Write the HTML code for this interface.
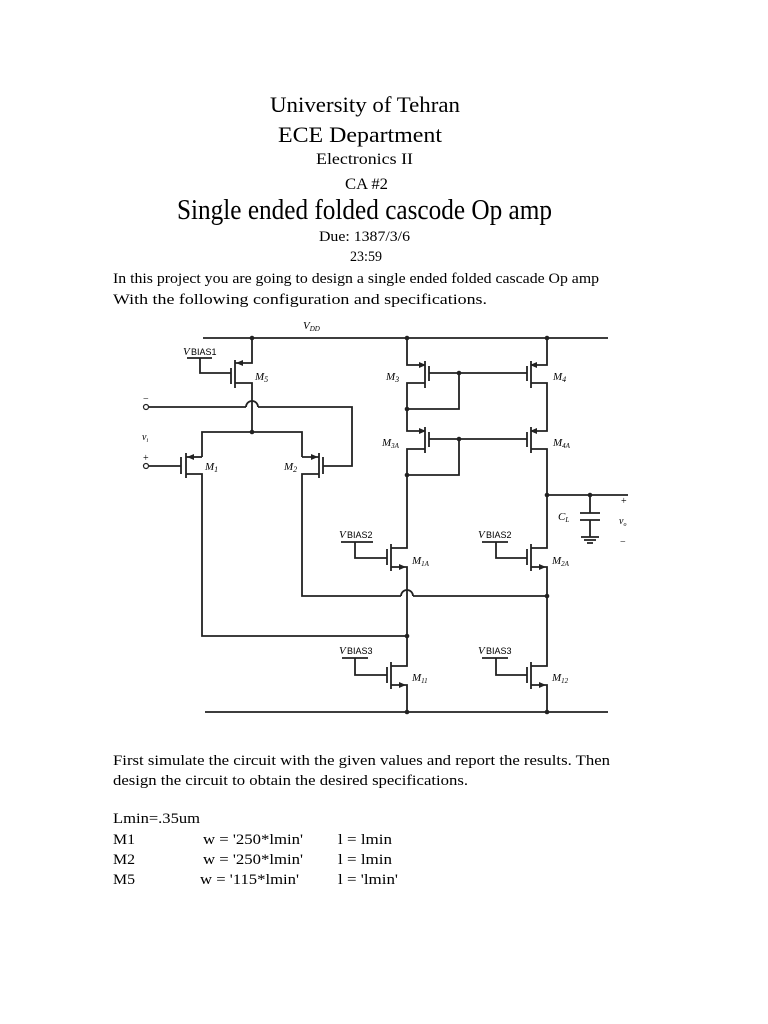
<!DOCTYPE html>
<html><head><meta charset="utf-8"><style>
html,body{margin:0;padding:0;background:#fff;}
svg{display:block;}
text{font-family:"Liberation Serif","Times New Roman",serif;fill:#000;}
.it{font-style:italic;}
.s{font-family:"Liberation Sans",sans-serif;font-size:9px;}
</style></head><body>
<svg width="768" height="1024" viewBox="0 0 768 1024" xmlns="http://www.w3.org/2000/svg">
<g>
<text x="270" y="112" font-size="22" textLength="190" lengthAdjust="spacingAndGlyphs">University of Tehran</text>
<text x="278" y="142" font-size="22" textLength="164" lengthAdjust="spacingAndGlyphs">ECE Department</text>
<text x="316" y="164" font-size="16" textLength="97" lengthAdjust="spacingAndGlyphs">Electronics II</text>
<text x="345" y="189" font-size="16" textLength="43" lengthAdjust="spacingAndGlyphs">CA #2</text>
<text x="177" y="219" font-size="29" textLength="375" lengthAdjust="spacingAndGlyphs">Single ended folded cascode Op amp</text>
<text x="319" y="241" font-size="15" textLength="91" lengthAdjust="spacingAndGlyphs">Due: 1387/3/6</text>
<text x="350" y="261" font-size="15" textLength="32" lengthAdjust="spacingAndGlyphs">23:59</text>
<text x="113" y="283" font-size="15" textLength="486" lengthAdjust="spacingAndGlyphs">In this project you are going to design a single ended folded cascade Op amp</text>
<text x="113" y="304" font-size="15" textLength="374" lengthAdjust="spacingAndGlyphs">With the following configuration and specifications.</text>

<text x="113" y="765" font-size="15" textLength="497" lengthAdjust="spacingAndGlyphs">First simulate the circuit with the given values and report the results. Then</text>
<text x="113" y="785" font-size="15" textLength="355" lengthAdjust="spacingAndGlyphs">design the circuit to obtain the desired specifications.</text>
<text x="113" y="823" font-size="15" textLength="87" lengthAdjust="spacingAndGlyphs">Lmin=.35um</text>
<text x="113" y="844" font-size="15" textLength="22" lengthAdjust="spacingAndGlyphs">M1</text><text x="203" y="844" font-size="15" textLength="100" lengthAdjust="spacingAndGlyphs">w = '250*lmin'</text><text x="338" y="844" font-size="15" textLength="54" lengthAdjust="spacingAndGlyphs">l = lmin</text>
<text x="113" y="864" font-size="15" textLength="22" lengthAdjust="spacingAndGlyphs">M2</text><text x="203" y="864" font-size="15" textLength="100" lengthAdjust="spacingAndGlyphs">w = '250*lmin'</text><text x="338" y="864" font-size="15" textLength="54" lengthAdjust="spacingAndGlyphs">l = lmin</text>
<text x="113" y="884" font-size="15" textLength="22" lengthAdjust="spacingAndGlyphs">M5</text><text x="200" y="884" font-size="15" textLength="99" lengthAdjust="spacingAndGlyphs">w = '115*lmin'</text><text x="338" y="884" font-size="15" textLength="60" lengthAdjust="spacingAndGlyphs">l = 'lmin'</text>
</g>

<g stroke="#222" stroke-width="1.8" fill="none">
<line x1="203" y1="338" x2="608" y2="338"/>
<line x1="205" y1="712" x2="608" y2="712"/>
<path d="M252 338 V363 H235"/><line x1="235" y1="360" x2="235" y2="388"/><line x1="231" y1="368" x2="231" y2="384"/>
<path d="M187 358 H212 M200 358 V373 H231"/>
<path d="M235 383 H252 V432"/>
<path d="M246 407 A6 6 0 0 1 258 407"/>
<path d="M149 407 H246 M258 407 H352 V466 H323"/>
<path d="M202 457 V432 H302 V457"/>
<path d="M202 457 H186"/><line x1="186" y1="453" x2="186" y2="478"/><line x1="181" y1="457" x2="181" y2="474"/>
<path d="M149 466 H181"/>
<path d="M186 474 H202 V636 H407"/>
<path d="M302 457 H319"/><line x1="319" y1="453" x2="319" y2="478"/><line x1="323" y1="457" x2="323" y2="474"/>
<path d="M319 474 H302 V596 H401 M413 596 H547"/>
<path d="M401 596 A6 6 0 0 1 413 596"/>
<path d="M407 338 V365 H425"/><line x1="425" y1="361" x2="425" y2="388"/><line x1="429" y1="366" x2="429" y2="381"/>
<path d="M429 373 H527 M459 373 V409 H407"/>
<path d="M425 383 H407 V431 H425"/><line x1="425" y1="427" x2="425" y2="453"/><line x1="429" y1="432" x2="429" y2="447"/>
<path d="M429 439 H527 M459 439 V475 H407"/>
<path d="M425 449 H407 V548 H391"/>
<path d="M547 338 V365 H531"/><line x1="531" y1="361" x2="531" y2="388"/><line x1="527" y1="366" x2="527" y2="381"/>
<path d="M531 383 H547 V431 H531"/><line x1="531" y1="427" x2="531" y2="453"/><line x1="527" y1="432" x2="527" y2="447"/>
<path d="M531 449 H547 V548 H531"/>
<path d="M547 495 H628 M590 495 V513 M580 513 H600 M580 520 H600 M590 520 V537 M581 537 H599 M584 540 H596 M587 543 H593"/>
<line x1="391" y1="544" x2="391" y2="571"/><line x1="387" y1="549" x2="387" y2="565"/>
<path d="M341 542 H373 M355 542 V558 H387"/>
<path d="M391 567 H407 V666 H391"/>
<line x1="531" y1="544" x2="531" y2="571"/><line x1="527" y1="549" x2="527" y2="565"/>
<path d="M482 542 H508 M496 542 V558 H527"/>
<path d="M531 567 H547 V666 H531"/>
<line x1="391" y1="662" x2="391" y2="689"/><line x1="387" y1="667" x2="387" y2="683"/>
<path d="M342 658 H368 M355 658 V675 H387"/>
<path d="M391 685 H407 V712"/>
<line x1="531" y1="662" x2="531" y2="689"/><line x1="527" y1="667" x2="527" y2="683"/>
<path d="M482 658 H508 M496 658 V675 H527"/>
<path d="M531 685 H547 V712"/>
<circle cx="146" cy="407" r="2.5" stroke-width="1.2"/><circle cx="146" cy="466" r="2.5" stroke-width="1.2"/>
</g>
<g fill="#222">
<circle cx="252" cy="338" r="2.3"/><circle cx="407" cy="338" r="2.3"/><circle cx="547" cy="338" r="2.3"/>
<circle cx="252" cy="432" r="2.3"/><circle cx="459" cy="373" r="2.3"/><circle cx="407" cy="409" r="2.3"/>
<circle cx="459" cy="439" r="2.3"/><circle cx="407" cy="475" r="2.3"/><circle cx="547" cy="495" r="2.3"/>
<circle cx="590" cy="495" r="2.3"/><circle cx="547" cy="596" r="2.3"/><circle cx="407" cy="636" r="2.3"/>
<circle cx="407" cy="712" r="2.3"/><circle cx="547" cy="712" r="2.3"/>
<polygon points="236,363 243,360 243,366"/>
<polygon points="426,365 419,362 419,368"/><polygon points="426,431 419,428 419,434"/>
<polygon points="530,365 537,362 537,368"/><polygon points="530,431 537,428 537,434"/>
<polygon points="187,457 194,454 194,460"/><polygon points="318,457 311,454 311,460"/>
<polygon points="406,567 399,564 399,570"/><polygon points="546,567 539,564 539,570"/>
<polygon points="406,685 399,682 399,688"/><polygon points="546,685 539,682 539,688"/>
</g>
<g font-size="11">
<text x="303" y="329" class="it">V<tspan font-size="7" dy="2">DD</tspan></text>
<text x="183" y="355" class="it">V</text><text x="191" y="355" class="s">BIAS1</text>
<text x="255" y="380" class="it">M<tspan font-size="8" dy="2">5</tspan></text>
<text x="386" y="380" class="it">M<tspan font-size="8" dy="2">3</tspan></text>
<text x="553" y="380" class="it">M<tspan font-size="8" dy="2">4</tspan></text>
<text x="382" y="446" class="it">M<tspan font-size="7" dy="2">3A</tspan></text>
<text x="553" y="446" class="it">M<tspan font-size="7" dy="2">4A</tspan></text>
<text x="205" y="470" class="it">M<tspan font-size="8" dy="2">1</tspan></text>
<text x="284" y="470" class="it">M<tspan font-size="8" dy="2">2</tspan></text>
<text x="142" y="440" class="it" font-size="10">v<tspan font-size="6" dy="2">i</tspan></text>
<text x="143" y="461" font-size="10">+</text>
<text x="143" y="402" font-size="10">−</text>
<text x="558" y="520" class="it">C<tspan font-size="7" dy="2">L</tspan></text>
<text x="621" y="504" font-size="10">+</text>
<text x="619" y="524" class="it" font-size="10">v<tspan font-size="6" dy="2">o</tspan></text>
<text x="620" y="545" font-size="10">−</text>
<text x="339" y="538" class="it">V</text><text x="347" y="538" class="s">BIAS2</text>
<text x="478" y="538" class="it">V</text><text x="486" y="538" class="s">BIAS2</text>
<text x="412" y="564" class="it">M<tspan font-size="7" dy="2">1A</tspan></text>
<text x="552" y="564" class="it">M<tspan font-size="7" dy="2">2A</tspan></text>
<text x="339" y="654" class="it">V</text><text x="347" y="654" class="s">BIAS3</text>
<text x="478" y="654" class="it">V</text><text x="486" y="654" class="s">BIAS3</text>
<text x="412" y="681" class="it">M<tspan font-size="7" dy="2">11</tspan></text>
<text x="552" y="681" class="it">M<tspan font-size="7" dy="2">12</tspan></text>
</g>
</svg>
</body></html>
